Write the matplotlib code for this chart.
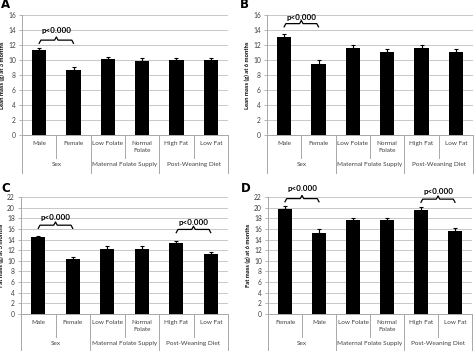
import matplotlib.pyplot as plt
import matplotlib.transforms as mtransforms
import numpy as np

plt.rcParams['font.family'] = ['Lato', 'DejaVu Sans']

cats_main = ["Male", "Female", "Low Folate", "Normal\nFolate", "High Fat", "Low Fat"]
cats_d = ["Female", "Male", "Low Folate", "Normal\nFolate", "High Fat", "Low Fat"]
groups = ["Sex", "Maternal Folate Supply", "Post-Weaning Diet"]

lean3 = [11.3, 8.7, 10.1, 9.9, 10.0, 10.0]
lean3_err = [0.3, 0.35, 0.3, 0.3, 0.3, 0.3]
lean6 = [13.1, 9.5, 11.6, 11.1, 11.6, 11.1]
lean6_err = [0.35, 0.45, 0.4, 0.4, 0.4, 0.4]
fat3 = [14.4, 10.3, 12.3, 12.3, 13.4, 11.2]
fat3_err = [0.35, 0.4, 0.4, 0.4, 0.4, 0.45]
fat6 = [19.8, 15.3, 17.6, 17.6, 19.6, 15.7]
fat6_err = [0.5, 0.6, 0.5, 0.5, 0.5, 0.55]

# (letter, values, errors, labels, ylabel, ymax, rect px [left, right, top, bottom], letter px, brackets)
panels = [
    ("A", lean3, lean3_err, cats_main, "Lean mass (g) at 3 months", 16,
     (22, 228, 15, 135), (1, 5), [(0, 1, 12.65, 13.45)]),
    ("B", lean6, lean6_err, cats_main, "Lean mass (g) at 6 months", 16,
     (267, 473, 15, 135), (240, 5), [(0, 1, 14.85, 15.25)]),
    ("C", fat3, fat3_err, cats_main, "Fat mass (g) at 3 months", 22,
     (21, 228, 197, 314), (1, 188), [(0, 1, 16.7, 17.5), (4, 5, 15.9, 16.6)]),
    ("D", fat6, fat6_err, cats_d, "Fat mass (g) at 6 months", 22,
     (268, 472, 197, 314), (241, 188), [(0, 1, 21.7, 22.85), (4, 5, 21.6, 22.35)]),
]

W, H = 474, 351
fig = plt.figure(figsize=(W / 100, H / 100), dpi=100)
grey = '#a8a8a8'
txt = '#404040'

for letter, vals, errs, labels, ylab, ymax, (l, r, t, b), (lx, ly), brackets in panels:
    ax = fig.add_axes([l / W, 1 - b / H, (r - l) / W, (b - t) / H])
    x = np.arange(len(vals))
    ax.bar(x, vals, width=0.42, color='black', zorder=3)
    ax.errorbar(x, vals, yerr=[np.zeros(len(errs)), errs], fmt='none',
                ecolor='black', elinewidth=0.8, capsize=1.5, capthick=0.8, zorder=4)
    ax.set_xlim(-0.5, len(vals) - 0.5)
    ax.set_ylim(0, ymax)
    ax.set_yticks(np.arange(0, ymax + 1, 2))
    ax.yaxis.grid(True, color='#c8c8c8', linewidth=0.7)
    ax.set_axisbelow(True)
    for s in ['top', 'right']:
        ax.spines[s].set_visible(False)
    for s in ['left', 'bottom']:
        ax.spines[s].set_color(grey)
        ax.spines[s].set_linewidth(0.7)
    ax.tick_params(axis='y', labelsize=4.8, length=2.5, width=0.6, color=grey, pad=2,
                   labelcolor=txt)
    ax.set_xticks([])
    ax.set_ylabel(ylab, fontsize=4.2, fontweight='bold', labelpad=2)

    base = mtransforms.blended_transform_factory(ax.transData, ax.transAxes)

    def off(dy):
        return mtransforms.offset_copy(base, fig=fig, x=0, y=-dy, units='dots')

    # category labels
    for i, lab in enumerate(labels):
        ax.text(i, 0, lab, transform=off(6), ha='center', va='top', fontsize=4.6,
                color=txt, linespacing=1.6)
    for g, name in enumerate(groups):
        ax.text(2 * g + 0.5, 0, name, transform=off(27), ha='center', va='top',
                fontsize=4.6, color=txt)
    # separator lines below the axis
    for k, xb in enumerate(np.arange(-0.5, len(vals), 1.0)):
        depth = 38 if k % 2 == 0 else 23
        ax.add_line(plt.Line2D([xb, xb], [0, -depth / (b - t)], transform=base,
                               color=grey, lw=0.7, clip_on=False))

    # significance brackets
    d = 3.2 * ymax / (b - t)
    for i0, i1, yb, ytxt in brackets:
        mid = (i0 + i1) / 2
        xs = [i0, i0 + 0.05, mid - 0.05, mid, mid + 0.05, i1 - 0.05, i1]
        ys = [yb - d, yb, yb, yb + d, yb, yb, yb - d]
        ax.plot(xs, ys, color='black', lw=0.9, clip_on=False, zorder=5)
        ax.text(mid, ytxt, "p<0.000", ha='center', va='bottom',
                fontsize=5.8, fontweight='bold', clip_on=False, zorder=5)

    fig.text(lx / W, 1 - ly / H, letter, fontsize=8.5, fontweight='bold',
             ha='left', va='center', family='DejaVu Sans')

fig.savefig('out.png', dpi=100)
